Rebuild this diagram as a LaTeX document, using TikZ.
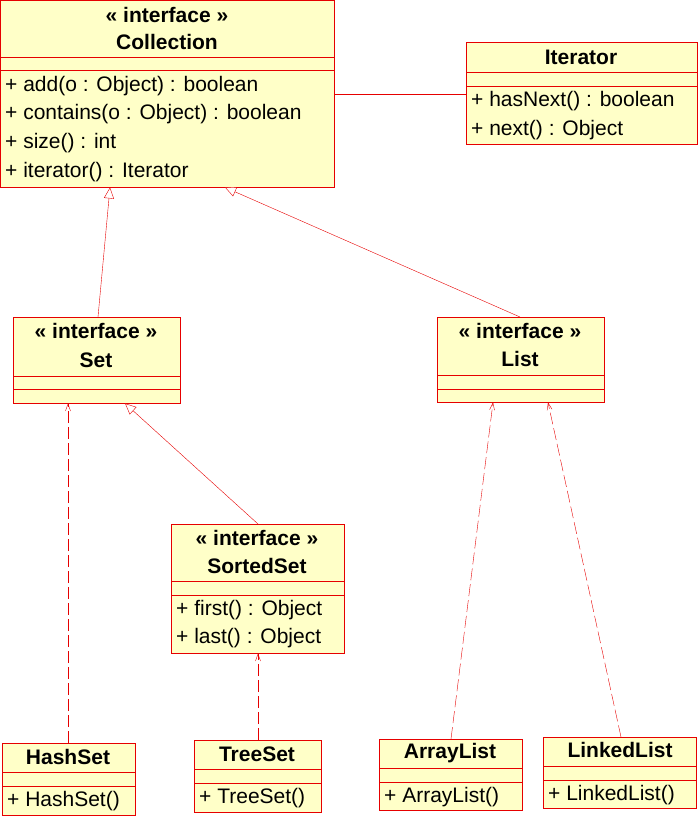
\documentclass[tikz,border=0pt]{standalone}
\usepackage{fontspec}
\setmainfont[Ligatures=NoCommon]{Liberation Sans}
\usetikzlibrary{arrows.meta,calc}
\definecolor{fillY}{RGB}{255,255,200}
\definecolor{lineR}{RGB}{230,0,0}
\newcommand{\stereo}{\textless\textless\ interface \textgreater\textgreater}
\tikzset{
 box/.style={draw=lineR, fill=fillY, anchor=north west, inner sep=0pt},
 sep/.style={draw=lineR},
 ttl/.style={font=\fontsize{21}{21}\selectfont\bfseries, inner sep=0pt},
 op/.style={font=\fontsize{21}{21}\selectfont, anchor=west, inner sep=0pt},
 gen/.style={draw=lineR, -{Triangle[open, fill=white, length=11pt, width=10pt]}},
 real/.style={draw=lineR, dash pattern=on 12pt off 4pt, -{Straight Barb[length=7pt, width=5pt]}},
 assoc/.style={draw=lineR}
}
\begin{document}
\begin{tikzpicture}[x=1pt,y=-1pt]
\useasboundingbox (0,0) rectangle (698,816);
% Collection
\node[box, minimum width=334, minimum height=187] (coll) at (0,0) {};
\node[ttl] at (167,15) {\stereo};
\node[ttl] at (167,42) {Collection};
\draw[sep] (0,57) -- (334,57); \draw[sep] (0,70) -- (334,70);
\node[op] at (5,86) {+ add(o : Object) : boolean};
\node[op] at (5,114) {+ contains(o : Object) : boolean};
\node[op] at (5,143) {+ size() : int};
\node[op] at (5,172) {+ iterator() : Iterator};
% Iterator
\node[box, minimum width=231, minimum height=102] (iter) at (466,42) {};
\node[ttl] at (581,57) {Iterator};
\draw[sep] (466,72) -- (697,72); \draw[sep] (466,86) -- (697,86);
\node[op] at (471,101) {+ hasNext() : boolean};
\node[op] at (471,130) {+ next() : Object};
% Set
\node[box, minimum width=167, minimum height=86] (set) at (13,317) {};
\node[ttl] at (96,331) {\stereo};
\node[ttl] at (96,360) {Set};
\draw[sep] (13,376) -- (180,376); \draw[sep] (13,389) -- (180,389);
% List
\node[box, minimum width=167, minimum height=85] (list) at (437,317) {};
\node[ttl] at (520,331) {\stereo};
\node[ttl] at (520,359) {List};
\draw[sep] (437,375) -- (604,375); \draw[sep] (437,389) -- (604,389);
% SortedSet
\node[box, minimum width=173, minimum height=129] (sset) at (171,524) {};
\node[ttl] at (257,538) {\stereo};
\node[ttl] at (257,566) {SortedSet};
\draw[sep] (171,581) -- (344,581); \draw[sep] (171,595) -- (344,595);
\node[op] at (176,610) {+ first() : Object};
\node[op] at (176,638) {+ last() : Object};
% HashSet
\node[box, minimum width=133, minimum height=72] (hash) at (2,743) {};
\node[ttl] at (68,757) {HashSet};
\draw[sep] (2,772) -- (135,772); \draw[sep] (2,786) -- (135,786);
\node[op] at (7,801) {+ HashSet()};
% TreeSet
\node[box, minimum width=127, minimum height=72] (tree) at (194,740) {};
\node[ttl] at (257,754) {TreeSet};
\draw[sep] (194,769) -- (321,769); \draw[sep] (194,783) -- (321,783);
\node[op] at (199,798) {+ TreeSet()};
% ArrayList
\node[box, minimum width=143, minimum height=71] (alist) at (379,739) {};
\node[ttl] at (450,753) {ArrayList};
\draw[sep] (379,768) -- (522,768); \draw[sep] (379,782) -- (522,782);
\node[op] at (384,797) {+ ArrayList()};
% LinkedList
\node[box, minimum width=153, minimum height=71] (llist) at (543,737) {};
\node[ttl] at (620,750) {LinkedList};
\draw[sep] (543,766) -- (696,766); \draw[sep] (543,780) -- (696,780);
\node[op] at (548,795) {+ LinkedList()};
% connectors
\draw[assoc] ($(coll.north east)+(0,94)$) -- ($(iter.north west)+(0,52)$);
\draw[gen] ($(set.north west)+(85,0)$) -- ($(coll.south west)+(110,0)$);
\draw[gen] ($(list.north west)+(83,0)$) -- ($(coll.south west)+(225,0)$);
\draw[gen] ($(sset.north west)+(87,0)$) -- ($(set.south west)+(112,0)$);
\draw[real] ($(hash.north west)+(66,0)$) -- ($(set.south west)+(55,0)$);
\draw[real] ($(tree.north west)+(64,0)$) -- ($(sset.south west)+(87,0)$);
\draw[real] ($(alist.north west)+(72,0)$) -- ($(list.south west)+(56,0)$);
\draw[real] ($(llist.north west)+(78,0)$) -- ($(list.south west)+(111,0)$);
\end{tikzpicture}
\end{document}
